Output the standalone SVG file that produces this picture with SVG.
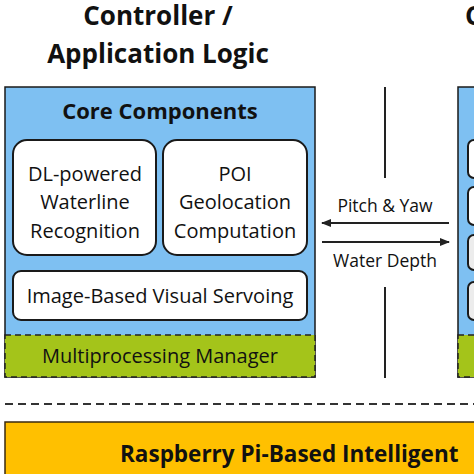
<svg xmlns="http://www.w3.org/2000/svg" width="474" height="474" viewBox="0 0 474 474">
<style>
text{font-family:"Open Sans","Liberation Sans",sans-serif;fill:#111}
.title{font-size:26px;font-weight:bold;text-anchor:middle}
.blue{fill:#7ec0f2;stroke:#1a1a1a;stroke-width:1.5}
.white{fill:#fff;stroke:#1a1a1a;stroke-width:2}
.grey{fill:#ececec;stroke:#1a1a1a;stroke-width:2}
.green{fill:#a4c41a;stroke:#222;stroke-width:1.5;stroke-dasharray:6 4}
.lbl{font-size:20px;text-anchor:middle}
.small{font-size:17.5px;text-anchor:middle}
.conn{stroke:#222;stroke-width:2;fill:none}
</style>
<defs>
<marker id="ah" viewBox="0 0 10 10" refX="9" refY="5" markerWidth="5" markerHeight="5" orient="auto-start-reverse"><path d="M0,1 L10,5 L0,9 Z" fill="#222"/></marker>
</defs>
<g id="titles">
<text class="title" x="158" y="25">Controller /</text>
<text class="title" x="158" y="63">Application Logic</text>
<text class="title" x="465" y="25" style="text-anchor:start">C</text>
</g>
<g id="controller">
<rect class="blue" x="5" y="87" width="310" height="290"/>
<text x="160" y="119" style="font-size:22px;font-weight:bold;text-anchor:middle">Core Components</text>
</g>
<g id="waterline">
<rect class="white" x="13" y="140" width="143" height="115" rx="14"/>
<text class="lbl" x="85" y="181">DL-powered</text>
<text class="lbl" x="85" y="209">Waterline</text>
<text class="lbl" x="85" y="238">Recognition</text>
</g>
<g id="poi">
<rect class="white" x="163" y="140" width="144" height="115" rx="14"/>
<text class="lbl" x="235" y="181">POI</text>
<text class="lbl" x="235" y="209">Geolocation</text>
<text class="lbl" x="235" y="238">Computation</text>
</g>
<g id="ibvs">
<rect class="white" x="13" y="271" width="294" height="49" rx="8"/>
<text class="lbl" x="160" y="303">Image-Based Visual Servoing</text>
</g>
<g id="multiprocessing">
<rect class="green" x="5" y="335" width="310" height="42"/>
<text class="lbl" x="160" y="363">Multiprocessing Manager</text>
</g>
<g id="right-panel">
<rect class="blue" x="458" y="87" width="30" height="290"/>
<rect class="white" x="468" y="140" width="20" height="38" rx="6"/>
<rect class="white" x="468" y="187" width="20" height="38" rx="6"/>
<rect class="grey" x="468" y="235" width="20" height="35" rx="6"/>
<rect class="grey" x="468" y="282" width="20" height="38" rx="6"/>
<rect class="green" x="458" y="335" width="30" height="42"/>
</g>
<g id="connectors">
<line class="conn" x1="385" y1="87" x2="385" y2="178"/>
<line class="conn" x1="385" y1="287" x2="385" y2="378"/>
<line class="conn" x1="449" y1="223" x2="322" y2="223" marker-end="url(#ah)"/>
<line class="conn" x1="322" y1="242" x2="449" y2="242" marker-end="url(#ah)"/>
<text class="small" x="385" y="212">Pitch &amp; Yaw</text>
<text class="small" x="385" y="267">Water Depth</text>
<line x1="5" y1="404" x2="474" y2="404" stroke="#333" stroke-width="2" stroke-dasharray="8 5"/>
</g>
<g id="raspberry">
<rect x="5" y="422" width="480" height="60" fill="#ffc000" stroke="#3a2a10" stroke-width="1.5"/>
<text x="120" y="462" style="font-size:22.5px;font-weight:bold">Raspberry Pi-Based Intelligent</text>
</g>
</svg>
